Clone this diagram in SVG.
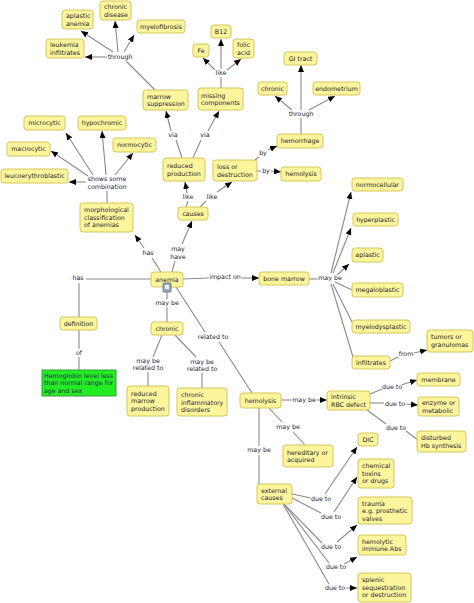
<svg xmlns="http://www.w3.org/2000/svg" width="474" height="603" viewBox="0 0 474 603">
<style>
.n rect{fill:#fdf59c;stroke:#d6c65a;stroke-width:1}
text{font-family:"DejaVu Sans","Liberation Sans",sans-serif;font-size:6.3px;fill:#1c1c34}
.l{text-anchor:middle}
#labels text{stroke:#fff;stroke-width:2.2px;paint-order:stroke;stroke-linejoin:round}
.c line{stroke:#8a8a8a;stroke-width:1.1}
.c .a{marker-end:url(#ah)}
</style>
<defs>
<marker id="ah" markerUnits="userSpaceOnUse" markerWidth="8" markerHeight="7" refX="7" refY="3" orient="auto"><path d="M0,0 L7,3 L0,6 z" fill="#000"/></marker>
</defs>
<rect width="474" height="603" fill="#fff"/>
<g class="c">
<line x1="151" y1="279" x2="86" y2="279"/>
<line x1="79" y1="283" x2="79" y2="317"/>
<line x1="79" y1="330" x2="79" y2="349"/>
<line x1="79" y1="357" x2="79" y2="370"/>
<line x1="161" y1="272" x2="152" y2="258"/>
<line class="a" x1="144" y1="248" x2="135" y2="235"/>
<line x1="172" y1="272" x2="175" y2="261"/>
<line class="a" x1="182" y1="244" x2="192" y2="221"/>
<line x1="183" y1="279" x2="209" y2="278"/>
<line class="a" x1="242" y1="278" x2="259" y2="278"/>
<line x1="167" y1="292" x2="167" y2="299"/>
<line x1="167" y1="307" x2="167" y2="322"/>
<line x1="176" y1="287" x2="205" y2="332"/>
<line x1="219" y1="342" x2="252" y2="393"/>
<line x1="162" y1="335" x2="153" y2="357"/>
<line x1="148" y1="372" x2="148" y2="386"/>
<line x1="175" y1="335" x2="196" y2="357"/>
<line x1="202" y1="373" x2="202" y2="388"/>
<line x1="309" y1="279" x2="319" y2="279"/>
<line class="a" x1="331" y1="273" x2="351" y2="192"/>
<line class="a" x1="333" y1="273" x2="351" y2="228"/>
<line class="a" x1="337" y1="275" x2="349" y2="264"/>
<line x1="335" y1="282" x2="352" y2="290"/>
<line x1="333" y1="284" x2="352" y2="322"/>
<line x1="331" y1="284" x2="353" y2="357"/>
<line x1="390" y1="361" x2="398" y2="357"/>
<line class="a" x1="414" y1="353" x2="427" y2="350"/>
<line x1="107" y1="203" x2="107" y2="191"/>
<line class="a" x1="93" y1="175" x2="66" y2="133"/>
<line class="a" x1="106" y1="175" x2="102" y2="131"/>
<line class="a" x1="115" y1="175" x2="133" y2="153"/>
<line class="a" x1="88" y1="176" x2="51" y2="151"/>
<line class="a" x1="86" y1="182" x2="69" y2="182"/>
<line x1="186" y1="207" x2="188" y2="201"/>
<line class="a" x1="187" y1="193" x2="185" y2="182"/>
<line x1="200" y1="207" x2="206" y2="201"/>
<line class="a" x1="217" y1="192" x2="232" y2="182"/>
<line x1="182" y1="158" x2="176" y2="140"/>
<line class="a" x1="171" y1="131" x2="166" y2="111"/>
<line x1="193" y1="158" x2="201" y2="140"/>
<line class="a" x1="208" y1="131" x2="219" y2="111"/>
<line x1="255" y1="160" x2="259" y2="157"/>
<line class="a" x1="268" y1="150" x2="277" y2="146"/>
<line x1="257" y1="171" x2="261" y2="171"/>
<line class="a" x1="271" y1="171" x2="281" y2="172"/>
<line x1="155" y1="90" x2="126" y2="61"/>
<line class="a" x1="107" y1="57" x2="85" y2="57"/>
<line class="a" x1="113" y1="52" x2="81" y2="31"/>
<line class="a" x1="118" y1="52" x2="115" y2="21"/>
<line class="a" x1="124" y1="52" x2="134" y2="35"/>
<line x1="221" y1="88" x2="221" y2="77"/>
<line class="a" x1="215" y1="70" x2="203" y2="58"/>
<line class="a" x1="221" y1="69" x2="221" y2="39"/>
<line class="a" x1="227" y1="70" x2="241" y2="59"/>
<line x1="301" y1="134" x2="301" y2="118"/>
<line class="a" x1="301" y1="110" x2="301" y2="65"/>
<line class="a" x1="292" y1="110" x2="275" y2="96"/>
<line class="a" x1="309" y1="110" x2="335" y2="96"/>
<line x1="281" y1="400" x2="293" y2="400"/>
<line class="a" x1="314" y1="400" x2="327" y2="400"/>
<line x1="370" y1="394" x2="382" y2="389"/>
<line class="a" x1="401" y1="385" x2="417" y2="380"/>
<line x1="370" y1="403" x2="384" y2="403"/>
<line class="a" x1="405" y1="404" x2="418" y2="405"/>
<line x1="367" y1="410" x2="386" y2="424"/>
<line x1="406" y1="431" x2="418" y2="440"/>
<line x1="269" y1="408" x2="282" y2="422"/>
<line x1="293" y1="432" x2="305" y2="445"/>
<line x1="259" y1="408" x2="259" y2="446"/>
<line x1="259" y1="455" x2="259" y2="484"/>
<line x1="292" y1="494" x2="311" y2="498"/>
<line class="a" x1="325" y1="494" x2="357" y2="447"/>
<line x1="292" y1="498" x2="321" y2="513"/>
<line class="a" x1="334" y1="512" x2="357" y2="477"/>
<line x1="284" y1="504" x2="322" y2="543"/>
<line class="a" x1="337" y1="542" x2="357" y2="525"/>
<line x1="284" y1="504" x2="329" y2="563"/>
<line class="a" x1="344" y1="564" x2="357" y2="557"/>
<line x1="283" y1="504" x2="329" y2="584"/>
<line class="a" x1="346" y1="588" x2="357" y2="588"/>
</g>
<g id="labels">
<text class="l" x="120" y="59">through</text>
<text class="l" x="221" y="75">like</text>
<text class="l" x="301" y="116">through</text>
<text class="l" x="173" y="137">via</text>
<text class="l" x="205" y="137">via</text>
<text class="l" x="188" y="199">like</text>
<text class="l" x="212" y="199">like</text>
<text class="l" x="263" y="155">by</text>
<text class="l" x="266" y="173">by</text>
<text class="l" x="107" y="181">shows some</text>
<text class="l" x="107" y="189">combination</text>
<text class="l" x="148" y="255">has</text>
<text class="l" x="178" y="251">may</text>
<text class="l" x="178" y="259">have</text>
<text class="l" x="78" y="280">has</text>
<text class="l" x="225" y="279">impact on</text>
<text class="l" x="330" y="280">may be</text>
<text class="l" x="167" y="305">may be</text>
<text class="l" x="213" y="339">related to</text>
<text class="l" x="79" y="355">of</text>
<text class="l" x="148" y="363">may be</text>
<text class="l" x="148" y="370">related to</text>
<text class="l" x="202" y="364">may be</text>
<text class="l" x="202" y="371">related to</text>
<text class="l" x="406" y="356">from</text>
<text class="l" x="304" y="402">may be</text>
<text class="l" x="392" y="389">due to</text>
<text class="l" x="395" y="406">due to</text>
<text class="l" x="396" y="430">due to</text>
<text class="l" x="288" y="429">may be</text>
<text class="l" x="259" y="452">may be</text>
<text class="l" x="321" y="501">due to</text>
<text class="l" x="331" y="519">due to</text>
<text class="l" x="331" y="549">due to</text>
<text class="l" x="336" y="569">due to</text>
<text class="l" x="335" y="590">due to</text>
</g>
<g id="chronic-disease" class="n"><rect x="100" y="1" width="31" height="19" rx="3"/><text x="104" y="9">chronic</text><text x="104" y="16.5">disease</text></g>
<g id="aplastic-anemia" class="n"><rect x="62" y="10" width="31" height="19" rx="3"/><text x="66" y="18">aplastic</text><text x="66" y="25.5">anemia</text></g>
<g id="myelofibrosis" class="n"><rect x="137" y="20" width="48" height="13" rx="3"/><text x="161" y="28.7" class="l">myelofibrosis</text></g>
<g id="leukemia-infiltrates" class="n"><rect x="46" y="39" width="38" height="19" rx="3"/><text x="50" y="47">leukemia</text><text x="50" y="54.5">infiltrates</text></g>
<g id="marrow-suppression" class="n"><rect x="143" y="90" width="45" height="20" rx="3"/><text x="147" y="98.5">marrow</text><text x="147" y="106">suppression</text></g>
<g id="missing-components" class="n"><rect x="198" y="88" width="45" height="22" rx="3"/><text x="201" y="97.5">missing</text><text x="201" y="105">components</text></g>
<g id="fe" class="n"><rect x="193" y="44" width="16" height="13" rx="3"/><text x="201" y="52.7" class="l">Fe</text></g>
<g id="b12" class="n"><rect x="211" y="25" width="20" height="13" rx="3"/><text x="221" y="33.7" class="l">B12</text></g>
<g id="folic-acid" class="n"><rect x="233" y="39" width="21" height="19" rx="3"/><text x="237" y="47">folic</text><text x="237" y="54.5">acid</text></g>
<g id="gi-tract" class="n"><rect x="284" y="52" width="33" height="13" rx="3"/><text x="300.5" y="60.7" class="l">GI tract</text></g>
<g id="chronic-top" class="n"><rect x="258" y="82" width="29" height="13" rx="3"/><text x="272.5" y="90.7" class="l">chronic</text></g>
<g id="endometrium" class="n"><rect x="313" y="82" width="47" height="13" rx="3"/><text x="336.5" y="90.7" class="l">endometrium</text></g>
<g id="hemorrhage" class="n"><rect x="277" y="134" width="46" height="14" rx="3"/><text x="300" y="143.2" class="l">hemorrhage</text></g>
<g id="hemolysis-upper" class="n"><rect x="281" y="167" width="40" height="14" rx="3"/><text x="301" y="176.2" class="l">hemolysis</text></g>
<g id="loss-or-destruction" class="n"><rect x="213" y="160" width="44" height="21" rx="3"/><text x="217" y="169">loss or</text><text x="217" y="176.5">destruction</text></g>
<g id="reduced-production" class="n"><rect x="163" y="158" width="42" height="23" rx="3"/><text x="167" y="168">reduced</text><text x="167" y="175.5">production</text></g>
<g id="causes" class="n"><rect x="178" y="207" width="30" height="13" rx="3"/><text x="193" y="215.7" class="l">causes</text></g>
<g id="microcytic" class="n"><rect x="24" y="116" width="41" height="14" rx="3"/><text x="44.5" y="125.2" class="l">microcytic</text></g>
<g id="hypochromic" class="n"><rect x="78" y="116" width="48" height="14" rx="3"/><text x="102" y="125.2" class="l">hypochromic</text></g>
<g id="macrocytic" class="n"><rect x="7" y="142" width="43" height="14" rx="3"/><text x="28.5" y="151.2" class="l">macrocytic</text></g>
<g id="normocytic" class="n"><rect x="113" y="138" width="43" height="14" rx="3"/><text x="134.5" y="147.2" class="l">normocytic</text></g>
<g id="leucoerythroblastic" class="n"><rect x="1" y="169" width="67" height="14" rx="3"/><text x="34.5" y="178.2" class="l">leucoerythroblastic</text></g>
<g id="morphological" class="n"><rect x="80" y="203" width="53" height="29" rx="3"/><text x="84" y="212">morphological</text><text x="84" y="219.5">classification</text><text x="84" y="227">of anemias</text></g>
<g id="anemia" class="n"><rect x="151" y="272" width="32" height="15" rx="3"/><text x="167" y="281.5" class="l">anemia</text><rect x="163" y="283" width="8" height="9" rx="1" style="fill:#9aa9b8;stroke:#5c6a78;stroke-width:0.8"/><rect x="165" y="285" width="4" height="4" style="fill:#e8eef4;stroke:none"/></g>
<g id="bone-marrow" class="n"><rect x="259" y="272" width="50" height="13" rx="3"/><text x="284" y="280.7" class="l">bone marrow</text></g>
<g id="definition" class="n"><rect x="60" y="317" width="37" height="13" rx="3"/><text x="78.5" y="325.7" class="l">definition</text></g>
<g id="hemoglobin-definition"><rect x="42" y="370" width="74" height="26" style="fill:#22ec22;stroke:#3c9a3c;stroke-width:1"/><text x="44" y="377.5" style="fill:#23324a">Hemoglobin level less</text><text x="44" y="385" style="fill:#23324a">than normal range for</text><text x="44" y="392.5" style="fill:#23324a">age and sex</text></g>
<g id="chronic-mid" class="n"><rect x="151" y="322" width="32" height="13" rx="3"/><text x="167" y="330.7" class="l">chronic</text></g>
<g id="reduced-marrow-production" class="n"><rect x="127" y="386" width="42" height="30" rx="3"/><text x="131" y="395.5">reduced</text><text x="131" y="403">marrow</text><text x="131" y="410.5">production</text></g>
<g id="chronic-inflammatory" class="n"><rect x="177" y="388" width="50" height="28" rx="3"/><text x="181" y="397">chronic</text><text x="181" y="404.5">inflammatory</text><text x="181" y="412">disorders</text></g>
<g id="hemolysis-lower" class="n"><rect x="240" y="393" width="41" height="15" rx="3"/><text x="260.5" y="402.5" class="l">hemolysis</text></g>
<g id="normocellular" class="n"><rect x="352" y="178" width="51" height="13" rx="3"/><text x="377.5" y="186.7" class="l">normocellular</text></g>
<g id="hyperplastic" class="n"><rect x="353" y="213" width="45" height="13" rx="3"/><text x="375.5" y="221.7" class="l">hyperplastic</text></g>
<g id="aplastic" class="n"><rect x="352" y="248" width="31" height="14" rx="3"/><text x="367.5" y="257.2" class="l">aplastic</text></g>
<g id="megaloblastic" class="n"><rect x="352" y="283" width="51" height="14" rx="3"/><text x="377.5" y="292.2" class="l">megaloblastic</text></g>
<g id="myelodysplastic" class="n"><rect x="352" y="320" width="58" height="13" rx="3"/><text x="381" y="328.7" class="l">myelodysplastic</text></g>
<g id="infiltrates" class="n"><rect x="352" y="356" width="38" height="13" rx="3"/><text x="371" y="364.7" class="l">infiltrates</text></g>
<g id="tumors-or-granulomas" class="n"><rect x="427" y="330" width="46" height="22" rx="3"/><text x="431" y="339">tumors or</text><text x="431" y="346.5">granulomas</text></g>
<g id="intrinsic-rbc-defect" class="n"><rect x="327" y="391" width="43" height="19" rx="3"/><text x="331" y="399">intrinsic</text><text x="331" y="406.5">RBC defect</text></g>
<g id="membrane" class="n"><rect x="417" y="373" width="43" height="13" rx="3"/><text x="438.5" y="381.7" class="l">membrane</text></g>
<g id="enzyme-or-metabolic" class="n"><rect x="418" y="397" width="41" height="19" rx="3"/><text x="422" y="405">enzyme or</text><text x="422" y="412.5">metabolic</text></g>
<g id="disturbed-hb-synthesis" class="n"><rect x="417" y="431" width="49" height="21" rx="3"/><text x="421" y="440">disturbed</text><text x="421" y="447.5">Hb synthesis</text></g>
<g id="hereditary-or-acquired" class="n"><rect x="283" y="445" width="50" height="22" rx="3"/><text x="287" y="454.5">hereditary or</text><text x="287" y="462">acquired</text></g>
<g id="dic" class="n"><rect x="358" y="433" width="20" height="13" rx="3"/><text x="368" y="441.7" class="l">DIC</text></g>
<g id="chemical-toxins" class="n"><rect x="358" y="459" width="36" height="29" rx="3"/><text x="362" y="468">chemical</text><text x="362" y="475.5">toxins</text><text x="362" y="483">or drugs</text></g>
<g id="external-causes" class="n"><rect x="257" y="484" width="35" height="20" rx="3"/><text x="261" y="492.5">external</text><text x="261" y="500">causes</text></g>
<g id="trauma" class="n"><rect x="358" y="497" width="54" height="27" rx="3"/><text x="362" y="505.5">trauma</text><text x="362" y="513">e.g. prosthetic</text><text x="362" y="520.5">valves</text></g>
<g id="hemolytic-immune-abs" class="n"><rect x="358" y="535" width="48" height="20" rx="3"/><text x="362" y="543.5">hemolytic</text><text x="362" y="551">immune Abs</text></g>
<g id="splenic" class="n"><rect x="358" y="573" width="53" height="29" rx="3"/><text x="362" y="582">splenic</text><text x="362" y="589.5">sequestration</text><text x="362" y="597">or destruction</text></g>
</svg>
